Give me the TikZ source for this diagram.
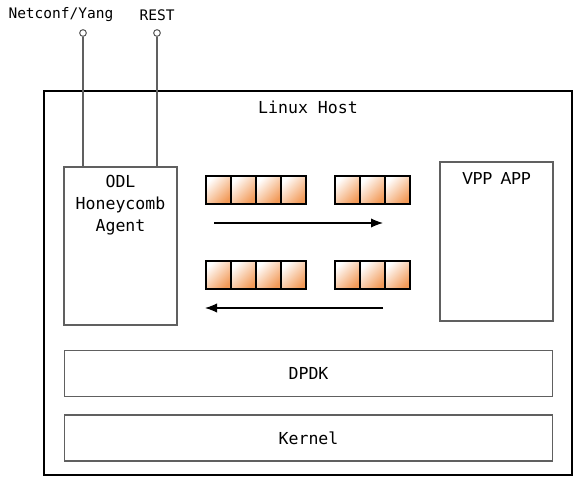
\documentclass[tikz,border=0pt]{standalone}
\usepackage{fontspec}
\setmonofont{DejaVu Sans Mono}
\setsansfont{Carlito}
\usepackage{xcolor}
\usetikzlibrary{arrows.meta}
\definecolor{qorange}{HTML}{F29A58}
\definecolor{boxgray}{HTML}{606060}

\begin{document}
\begin{tikzpicture}[x=0.75pt, y=-0.75pt,
        every node/.style={font=\ttfamily\fontsize{12.4}{16.5}\selectfont},
        box/.style={draw=boxgray, line width=1.1pt, inner sep=0pt},
        cell/.style={draw=black, line width=1.8pt, inner sep=0pt,
        minimum width=18.75pt, minimum height=21pt,
        top color=white, bottom color=qorange, shading angle=45},
        pin/.style={circle, draw=boxgray, fill=white, line width=0.8pt,
        minimum size=5pt, inner sep=0pt},
        wire/.style={draw=boxgray, line width=1pt},
        flow/.style={-{Latex[length=9pt, width=7pt]}, line width=0.8pt}]
        \useasboundingbox (0,0) rectangle (573,477);

        \node[draw, line width=0.8pt, inner sep=0pt, minimum width=396pt,
        minimum height=288pt] (host) at (308,283) {};
        \node (hosttitle) at (308,107) {Linux Host};

        \node[box, minimum width=84.75pt, minimum height=118.5pt] (odl) at (120.5,246) {};
        \node[align=center] (odltext) at (120.5,205) {ODL\\Honeycomb\\Agent};
        \node[box, minimum width=84.75pt, minimum height=119.25pt] (vpp) at (496.5,241.5) {};
        \node[font=\sffamily\fontsize{14}{16}\selectfont] (vpptext) at (496.5,179) {VPP\ \ APP};
        \node[box, minimum width=366pt, minimum height=34.5pt] (dpdk) at (308.5,373.5) {DPDK};
        \node[box, minimum width=366pt, minimum height=34.5pt] (kernel) at (308.5,438) {Kernel};

        \node[pin] (ncpin) at (83,33) {};
        \node[pin] (restpin) at (157,33) {};
        \node[font=\ttfamily\fontsize{10.9}{13}\selectfont] (nclabel) at (61,15) {Netconf/Yang};
        \node[font=\ttfamily\fontsize{10.9}{13}\selectfont] (restlabel) at (157,15) {REST};

        \draw[wire] (ncpin) -- (ncpin |- odl.north);
        \draw[wire] (restpin) -- (restpin |- odl.north);

        \node[cell] (txa) at (218.5,190) {};
        \node[cell] (txb) at (243.5,190) {};
        \node[cell] (txc) at (268.5,190) {};
        \node[cell] (txd) at (293.5,190) {};
        \node[cell] (txe) at (347.5,190) {};
        \node[cell] (txf) at (372.5,190) {};
        \node[cell] (txg) at (397.5,190) {};

        \node[cell] (rxa) at (218.5,275) {};
        \node[cell] (rxb) at (243.5,275) {};
        \node[cell] (rxc) at (268.5,275) {};
        \node[cell] (rxd) at (293.5,275) {};
        \node[cell] (rxe) at (347.5,275) {};
        \node[cell] (rxf) at (372.5,275) {};
        \node[cell] (rxg) at (397.5,275) {};

        \coordinate (txstart) at (214,223);
        \coordinate (txend) at (383,223);
        \coordinate (rxstart) at (383,308);
        \coordinate (rxend) at (205,308);

        \draw[flow] (txstart) -- (txend);
        \draw[flow] (rxstart) -- (rxend);
    \end{tikzpicture}
\end{document}
